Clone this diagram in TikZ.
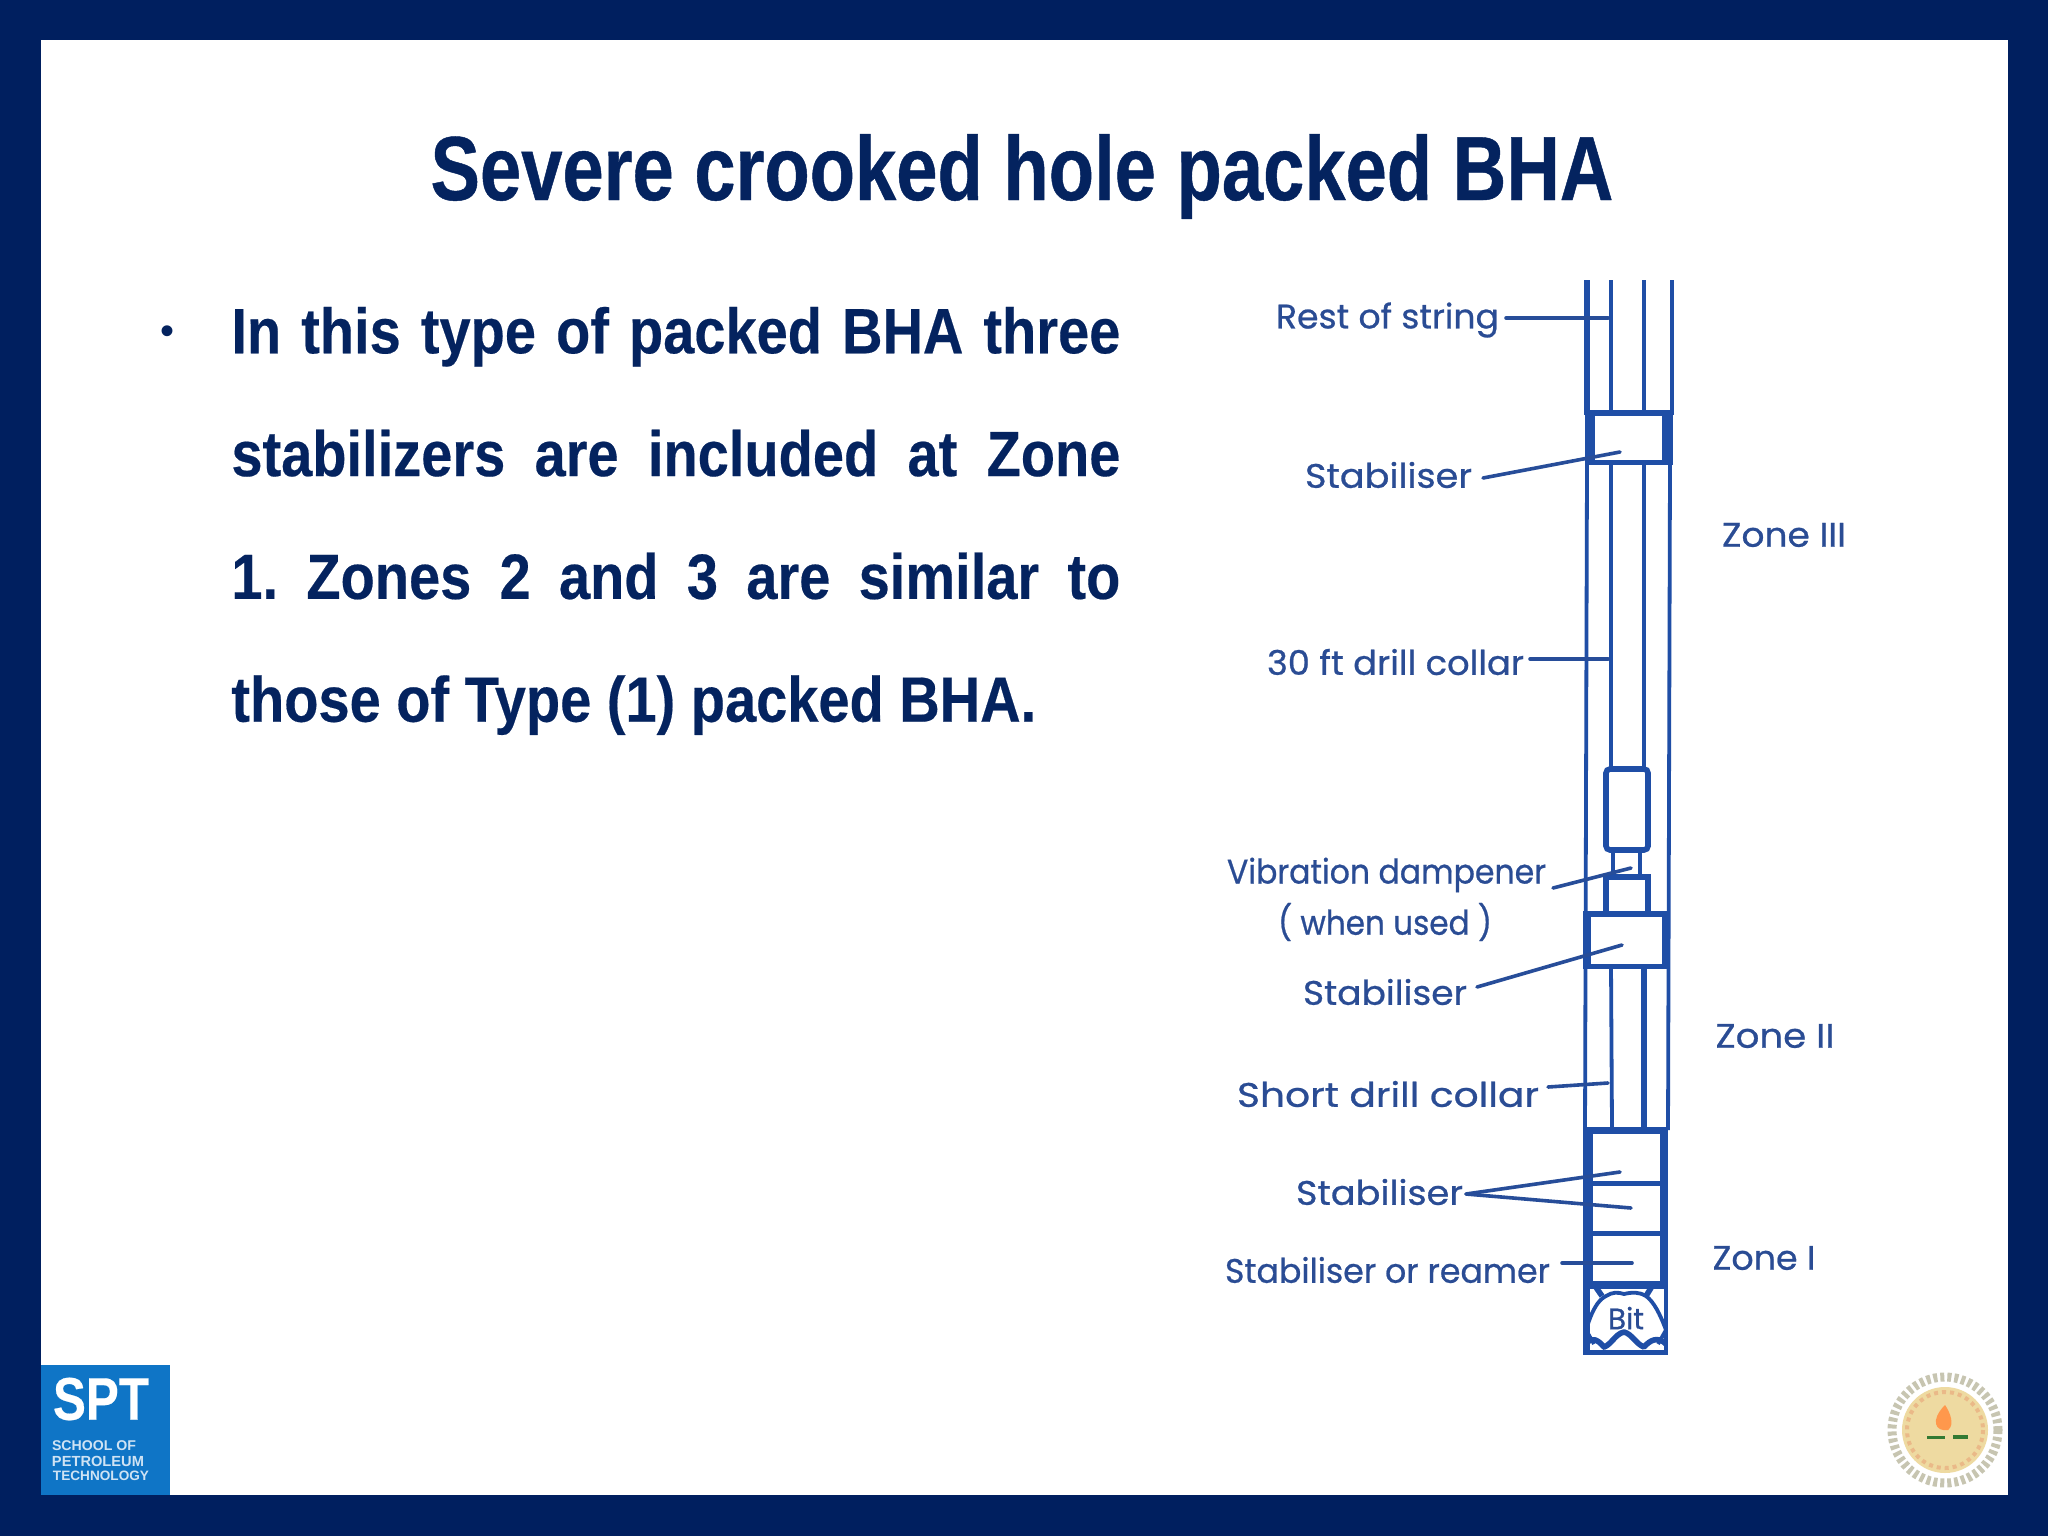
\documentclass[tikz,border=0pt]{standalone}
\usepackage{fontspec}
\setmainfont{Liberation Sans}
\newfontfamily\titlefont[FakeStretch=0.815,FakeBold=0.5]{Liberation Sans}
\newfontfamily\headfont[FakeStretch=0.875,FakeBold=0.3]{Liberation Sans}
\newfontfamily\labfont[FakeBold=0.7]{Poppins}
\definecolor{navy}{HTML}{001F5F}
\definecolor{inkblue}{HTML}{04235F}
\definecolor{toolblue}{HTML}{1F4EA6}
\definecolor{labblue}{HTML}{2A4C94}
\definecolor{sptblue}{HTML}{0F75C6}
\newcommand{\fitw}[2]{\resizebox{\dimexpr #1pt/2\relax}{\height}{\labfont\fontsize{17}{20}\selectfont #2}}
\tikzset{
  lab/.style={inner sep=0pt,text=labblue},
  thin line/.style={draw=toolblue,line width=1.9pt},
  thick line/.style={draw=toolblue,line width=2.8pt},
  leader/.style={draw=labblue!70!toolblue,line width=1.8pt,line cap=round},
  tool/.style={fill=toolblue},
  cavity/.style={fill=white}
}
\begin{document}
\begin{tikzpicture}[x=0.5pt,y=-0.5pt]
\useasboundingbox (0,0) rectangle (2048,1536);
\fill[navy] (0,0) rectangle (2048,1536);
\fill[white] (41,40) rectangle (2008,1495);
% title
\node[anchor=base,inner sep=0pt,text=inkblue,font=\titlefont\bfseries\fontsize{45.5}{50}\selectfont] (title) at (1022,200) {Severe crooked hole packed BHA};
% body
\node[inner sep=0pt,text=inkblue] (bullet) at (167,335) {\fontsize{20}{20}\selectfont\textbullet};
\node[anchor=north west,inner sep=0pt,text width=444.5pt,align=justify,text=inkblue,font=\headfont\bfseries\fontsize{32}{61.4}\selectfont\frenchspacing] (body) at (231,306.5)
{In this type of packed BHA three\linebreak stabilizers are included at Zone\linebreak 1. Zones 2 and 3 are similar to\linebreak those of Type (1) packed BHA.};
% string outer lines
\draw[thick line] (1587,280) -- (1587,415);
\draw[thin line] (1672,280) -- (1672,415);
\draw[thin line] (1611,280) -- (1611,415);
\draw[thin line] (1644,280) -- (1644,415);
\draw[thin line] (1587,460) -- (1585,1130);
\draw[thin line] (1670,460) -- (1668,1130);
\draw[thin line] (1611,460) -- (1611,769);
\draw[thin line] (1644,460) -- (1644,769);
% upper stabiliser
\fill[tool] (1585,410) rectangle (1673,465);
\fill[cavity] (1595,416) rectangle (1662,460);
% collar, neck, lower box
\draw[thick line,cavity,rounded corners=2pt] (1606,769) rectangle (1648,850);
\draw[thin line] (1613,850) -- (1613,877);
\draw[thin line] (1640,850) -- (1640,877);
\draw[thick line,cavity] (1606,877) -- (1606,915) -- (1648,915) -- (1648,877) -- cycle;
% middle stabiliser
\fill[tool] (1583,911) rectangle (1670,969);
\fill[cavity] (1591,917) rectangle (1662,964);
% zone II
\draw[thin line] (1611,967) -- (1612,1128);
\draw[thick line] (1644,967) -- (1644,1128);
% lower block
\fill[tool] (1583,1127) rectangle (1668,1289);
\fill[cavity] (1593,1134) rectangle (1660,1181);
\fill[cavity] (1593,1186) rectangle (1660,1231);
\fill[cavity] (1593,1236) rectangle (1660,1281);
% bit
\fill[tool] (1583,1286) rectangle (1668,1355);
\fill[cavity] (1590,1289) rectangle (1664,1350);
\draw[thick line] (1593,1283) -- (1602,1296);
\draw[thick line] (1654,1283) -- (1646,1296);
\draw[thin line,line join=round] (1586,1330) .. controls (1592,1310) and (1598,1300) .. (1606,1296)
  .. controls (1612,1292) and (1618,1292) .. (1624,1294)
  .. controls (1632,1292) and (1640,1292) .. (1646,1296)
  .. controls (1654,1302) and (1660,1314) .. (1666,1330);
\draw[thick line,line join=round] (1586,1344) .. controls (1592,1336) and (1598,1340) .. (1604,1347)
  .. controls (1612,1344) and (1615,1334) .. (1624,1332)
  .. controls (1632,1334) and (1636,1344) .. (1644,1347)
  .. controls (1650,1340) and (1658,1336) .. (1666,1344);
\draw[thin line] (1586,1330) -- (1594,1344);
\draw[thin line] (1666,1330) -- (1658,1344);
\node[lab] (bit) at (1626,1318) {\resizebox{18pt}{!}{\labfont Bit}};
% labels
\node[lab] (l1) at (1387.5,320) {\fitw{223}{Rest of string}};
\node[lab] (l2) at (1388.5,475) {\fitw{167}{Stabiliser}};
\node[lab] (l3) at (1395.5,662) {\fitw{257}{30 ft drill collar}};
\node[lab] (l4) at (1386.5,875) {\fitw{319}{Vibration dampener}};
\node[lab] (l4b) at (1385,922) {\fitw{214}{( when used )}};
\node[lab] (l5) at (1385,992) {\fitw{164}{Stabiliser}};
\node[lab] (l6) at (1388,1094) {\fitw{302}{Short drill collar}};
\node[lab] (l7) at (1379.5,1192) {\fitw{167}{Stabiliser}};
\node[lab] (l8) at (1387.5,1270) {\fitw{325}{Stabiliser or reamer}};
\node[lab] (z3) at (1784,535) {\fitw{124}{Zone III}};
\node[lab] (z2) at (1775,1036) {\fitw{119}{Zone II}};
\node[lab] (z1) at (1764,1258) {\fitw{103}{Zone I}};
% leaders
\coordinate (a1) at (1506,318); \coordinate (b1) at (1608,318);
\coordinate (a2) at (1483,478); \coordinate (b2) at (1620,452);
\coordinate (a3) at (1530,659); \coordinate (b3) at (1608,659);
\coordinate (a4) at (1553,888); \coordinate (b4) at (1631,868);
\coordinate (a5) at (1477,987); \coordinate (b5) at (1622,945);
\coordinate (a6) at (1548,1087); \coordinate (b6) at (1608,1083);
\coordinate (a7) at (1466,1194); \coordinate (b7) at (1620,1172); \coordinate (c7) at (1631,1208);
\coordinate (a8) at (1562,1263); \coordinate (b8) at (1632,1263);
\draw[leader] (a1) -- (b1);
\draw[leader] (a2) -- (b2);
\draw[leader] (a3) -- (b3);
\draw[leader] (a4) -- (b4);
\draw[leader] (a5) -- (b5);
\draw[leader] (a6) -- (b6);
\draw[leader] (a7) -- (b7);
\draw[leader] (a7) -- (c7);
\draw[leader] (a8) -- (b8);
% SPT logo
\fill[sptblue] (41,1365) rectangle (170,1495);
\node[inner sep=0pt,text=white] (spt) at (101,1399) {\resizebox{48pt}{21pt}{\headfont\bfseries SPT}};
\node[inner sep=0pt,text=white!80!sptblue] (s1) at (94,1446) {\resizebox{42pt}{!}{\bfseries SCHOOL OF}};
\node[inner sep=0pt,text=white!80!sptblue] (s2) at (98,1461) {\resizebox{46pt}{!}{\bfseries PETROLEUM}};
\node[inner sep=0pt,text=white!80!sptblue] (s3) at (101,1476) {\resizebox{48pt}{!}{\bfseries TECHNOLOGY}};
% seal
\draw[gray!70!olive,line width=4.5pt,dash pattern=on 2pt off 1.5pt,opacity=.5] (1945,1430) circle (53);
\fill[yellow!35!brown!45!white] (1945,1430) circle (43);
\draw[orange!40!brown!55!white,line width=2pt,dotted] (1945,1430) circle (38);
\fill[orange!85!red!70!white] (1945,1405) .. controls (1930,1420) and (1935,1432) .. (1948,1430) .. controls (1955,1425) and (1950,1412) .. (1945,1405) -- cycle;
\fill[green!35!black!80] (1927,1436) rectangle (1945,1439);
\fill[green!35!black!80] (1953,1435) rectangle (1968,1439);
\end{tikzpicture}
\end{document}
